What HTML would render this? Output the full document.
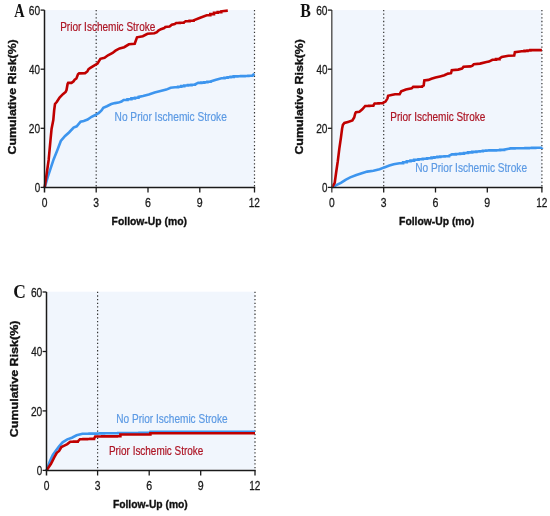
<!DOCTYPE html>
<html><head><meta charset="utf-8"><title>Cumulative Risk</title>
<style>
html,body{margin:0;padding:0;background:#fff;}
svg{display:block;}
.tk{font-family:"Liberation Sans",sans-serif;font-size:13.6px;fill:#1a1a1a;stroke:#1a1a1a;stroke-width:0.3px;}
.lt{font-family:"Liberation Serif",serif;font-weight:bold;font-size:18.0px;fill:#111;}
.ax{font-family:"Liberation Sans",sans-serif;font-weight:bold;font-size:11.4px;fill:#111;stroke:#111;stroke-width:0.35px;}
.lb{font-family:"Liberation Sans",sans-serif;font-size:12.1px;stroke-width:0.2px;}
</style></head>
<body>
<svg width="550" height="516" viewBox="0 0 550 516">
<rect width="550" height="516" fill="#fff"/>
<rect x="45.3" y="10.1" width="209.2" height="176.5" fill="#f1f6fd"/>
<line x1="96.2" y1="9.90" x2="96.2" y2="186.8" stroke="#333" stroke-width="1.2" stroke-dasharray="1.3 2.35"/>
<line x1="254.5" y1="9.90" x2="254.5" y2="186.8" stroke="#333" stroke-width="1.2" stroke-dasharray="1.3 2.35"/>
<polyline points="44.7,187.4 47.8,176.8 50.7,168.1 53.6,159.4 57.5,149.7 60.8,141.0 65.1,136.0 69.0,132.5 73.6,127.5 76.7,126.3 80.6,121.7 83.7,120.9 87.6,119.6 91.6,116.8 95.3,115.0 98.9,112.9 101.5,110.4 103.3,107.8 106.9,106.2 111.3,104.0 114.9,103.1 118.5,102.6 121.5,101.5 123.6,100.0 127.5,100.0 127.5,99.2 131.4,99.2 131.4,98.4 135.0,98.4 135.0,97.7 138.6,97.7 138.6,96.9 143.0,95.9 148.8,94.4 154.6,92.5 160.5,91.1 166.3,89.6 170.6,87.7 175.0,87.3 178.1,87.3 178.1,86.7 181.2,86.7 181.2,86.1 184.3,86.1 184.3,85.5 187.9,85.5 187.9,85.1 191.5,85.1 191.5,84.8 195.1,84.8 195.1,84.4 198.2,82.9 201.3,82.9 201.3,82.6 204.3,82.6 204.3,82.2 207.4,82.2 207.4,81.8 210.5,81.8 210.5,81.5 215.2,80.0 221.4,78.3 224.5,78.3 224.5,77.8 227.6,77.8 227.6,77.3 230.6,77.3 230.6,76.9 233.7,76.9 233.7,76.4 237.3,76.4 237.3,76.3 241.0,76.3 241.0,76.1 244.6,76.1 244.6,76.0 248.4,76.0 248.4,75.8 252.3,75.8 252.3,75.6 254.3,73.8" fill="none" stroke="#3d95ee" stroke-width="2.6" stroke-linejoin="miter"/>
<polyline points="44.7,187.4 46.5,175.0 48.7,159.7 50.5,140.0 51.6,128.7 53.3,120.0 54.2,110.0 55.0,104.0 56.9,101.8 59.6,97.5 62.9,94.2 65.6,92.0 66.5,90.0 67.6,84.0 68.2,82.9 71.5,82.9 73.6,81.3 74.7,79.6 76.4,78.5 78.0,74.2 79.1,73.4 85.1,73.1 87.3,71.5 88.4,69.3 90.0,68.2 92.8,66.4 97.5,63.5 100.4,58.8 104.5,57.7 108.0,55.3 112.6,53.0 115.5,50.7 119.6,48.4 124.2,47.2 128.9,44.3 134.7,43.7 137.0,37.3 142.8,36.2 147.5,33.8 154.4,33.2 156.9,32.1 158.4,30.6 160.9,29.2 164.2,28.1 165.3,27.0 169.6,26.6 171.8,24.8 174.7,24.1 176.2,23.0 179.8,23.0 179.8,22.8 183.5,22.8 183.5,22.6 185.6,21.2 189.6,21.2 189.6,20.8 193.6,20.8 193.6,20.4 200.2,17.7 206.7,15.3 210.3,15.3 210.3,14.1 214.0,14.1 214.0,12.8 217.7,12.8 217.7,12.1 221.3,12.1 221.3,11.3 227.8,10.6" fill="none" stroke="#c00000" stroke-width="2.6" stroke-linejoin="miter"/>
<line x1="44.5" y1="10.1" x2="44.5" y2="192.5" stroke="#1a1a1a" stroke-width="1.5"/>
<line x1="43.8" y1="187.4" x2="255.2" y2="187.4" stroke="#1a1a1a" stroke-width="1.5"/>
<line x1="40.6" y1="187.4" x2="44.5" y2="187.4" stroke="#1a1a1a" stroke-width="1.3"/>
<line x1="40.6" y1="128.3" x2="44.5" y2="128.3" stroke="#1a1a1a" stroke-width="1.3"/>
<line x1="40.6" y1="69.2" x2="44.5" y2="69.2" stroke="#1a1a1a" stroke-width="1.3"/>
<line x1="40.6" y1="10.1" x2="44.5" y2="10.1" stroke="#1a1a1a" stroke-width="1.3"/>
<line x1="96.2" y1="187.4" x2="96.2" y2="192.5" stroke="#1a1a1a" stroke-width="1.3"/>
<line x1="148.0" y1="187.4" x2="148.0" y2="192.5" stroke="#1a1a1a" stroke-width="1.3"/>
<line x1="199.8" y1="187.4" x2="199.8" y2="192.5" stroke="#1a1a1a" stroke-width="1.3"/>
<line x1="254.5" y1="187.4" x2="254.5" y2="192.5" stroke="#1a1a1a" stroke-width="1.3"/>
<text x="34.67" y="192.15" class="tk" textLength="5.47" lengthAdjust="spacingAndGlyphs">0</text>
<text x="28.84" y="133.05" class="tk" textLength="11.31" lengthAdjust="spacingAndGlyphs">20</text>
<text x="29.12" y="73.95" class="tk" textLength="11.01" lengthAdjust="spacingAndGlyphs">40</text>
<text x="28.83" y="14.85" class="tk" textLength="11.31" lengthAdjust="spacingAndGlyphs">60</text>
<text x="41.65" y="206.50" class="tk" textLength="5.70" lengthAdjust="spacingAndGlyphs">0</text>
<text x="93.36" y="206.50" class="tk" textLength="5.75" lengthAdjust="spacingAndGlyphs">3</text>
<text x="145.01" y="206.50" class="tk" textLength="5.91" lengthAdjust="spacingAndGlyphs">6</text>
<text x="196.85" y="206.50" class="tk" textLength="5.90" lengthAdjust="spacingAndGlyphs">9</text>
<text x="248.79" y="206.50" class="tk" textLength="11.17" lengthAdjust="spacingAndGlyphs">12</text>
<text x="14.26" y="16.50" class="lt" textLength="10.24" lengthAdjust="spacingAndGlyphs">A</text>
<text transform="rotate(-90)" x="-154.51" y="16.20" class="ax" textLength="115.22" lengthAdjust="spacingAndGlyphs">Cumulative Risk(%)</text>
<text x="111.61" y="225.00" class="ax" textLength="75.31" lengthAdjust="spacingAndGlyphs">Follow-Up (mo)</text>
<text x="60.18" y="30.70" class="lb" fill="#ad1424" textLength="95.17" lengthAdjust="spacingAndGlyphs" stroke="#ad1424">Prior Ischemic Stroke</text>
<text x="114.57" y="120.50" class="lb" fill="#5c9ae4" textLength="112.28" lengthAdjust="spacingAndGlyphs" stroke="#5c9ae4">No Prior Ischemic Stroke</text>
<rect x="332.6" y="10.1" width="209.3" height="176.5" fill="#f1f6fd"/>
<line x1="383.7" y1="9.90" x2="383.7" y2="186.8" stroke="#333" stroke-width="1.2" stroke-dasharray="1.3 2.35"/>
<line x1="541.9" y1="9.90" x2="541.9" y2="186.8" stroke="#333" stroke-width="1.2" stroke-dasharray="1.3 2.35"/>
<polyline points="332.1,187.4 336.2,185.2 340.9,182.9 345.5,179.8 350.2,177.4 356.4,175.1 361.0,173.6 367.2,171.6 373.4,170.8 379.6,169.2 384.3,167.4 389.4,165.6 393.7,164.2 399.5,163.2 403.1,163.2 403.1,162.2 406.8,162.2 406.8,161.3 410.5,161.3 410.5,160.6 414.1,160.6 414.1,159.8 418.5,159.8 418.5,159.3 422.8,159.3 422.8,158.8 427.1,158.8 427.1,158.2 431.5,158.2 431.5,157.6 434.4,157.6 434.4,157.2 437.4,157.2 437.4,156.9 440.3,156.9 440.3,156.5 444.6,156.5 444.6,156.2 449.0,156.2 449.0,155.9 451.9,154.4 455.9,154.4 455.9,154.0 460.0,154.0 460.0,153.6 464.0,153.6 464.0,153.0 468.0,153.0 468.0,152.4 472.2,152.4 472.2,151.9 476.4,151.9 476.4,151.5 479.7,151.5 479.7,151.2 482.9,151.2 482.9,150.8 486.2,150.8 486.2,150.5 489.5,150.5 489.5,150.4 492.7,150.4 492.7,150.4 496.0,150.4 496.0,150.3 500.1,150.3 500.1,149.9 504.2,149.9 504.2,149.6 510.7,148.4 514.5,148.4 514.5,148.3 518.4,148.3 518.4,148.3 522.2,148.3 522.2,148.2 525.5,148.2 525.5,148.1 528.7,148.1 528.7,148.0 532.0,148.0 532.0,147.9 535.3,147.9 535.3,147.8 538.6,147.8 538.6,147.7 541.9,147.7 541.9,147.6" fill="none" stroke="#3d95ee" stroke-width="2.6" stroke-linejoin="miter"/>
<polyline points="332.1,187.4 334.7,182.9 336.2,172.0 337.8,161.2 339.3,148.8 340.9,137.9 342.1,128.6 342.9,124.8 344.4,123.0 348.0,121.9 352.4,120.5 354.2,117.5 355.3,113.2 356.0,112.1 359.4,111.7 362.3,109.3 365.2,106.0 369.2,106.0 369.2,105.8 373.2,105.8 373.2,105.7 374.6,103.5 378.6,103.5 378.6,103.2 382.6,103.2 382.6,103.0 385.5,101.6 387.4,98.6 388.1,95.8 391.4,95.0 395.0,94.2 399.6,94.3 401.2,91.3 405.9,89.5 411.7,88.4 413.2,86.9 417.5,86.9 417.5,86.7 421.9,86.7 421.9,86.5 423.7,85.4 424.3,80.5 428.5,79.9 431.4,78.8 435.5,77.6 440.0,76.4 444.4,75.2 448.0,73.6 451.0,73.2 451.8,70.1 458.2,69.6 462.0,68.6 463.5,66.8 470.5,66.4 472.5,65.6 473.8,64.2 480.0,63.6 486.5,62.0 489.0,61.6 492.4,59.8 496.0,59.8 496.0,59.1 499.6,59.1 499.6,58.5 501.8,56.9 508.4,55.8 514.2,55.5 514.9,52.2 520.0,51.5 521.6,51.3 524.5,51.3 524.5,50.9 527.5,50.9 527.5,50.5 530.4,50.5 530.4,50.1 534.2,50.1 534.2,50.1 538.1,50.1 538.1,50.1 541.9,50.1 541.9,50.1" fill="none" stroke="#c00000" stroke-width="2.6" stroke-linejoin="miter"/>
<line x1="331.8" y1="10.1" x2="331.8" y2="192.5" stroke="#5a5a5a" stroke-width="1.5"/>
<line x1="331.1" y1="187.4" x2="542.6" y2="187.4" stroke="#1a1a1a" stroke-width="1.5"/>
<line x1="327.9" y1="187.4" x2="331.8" y2="187.4" stroke="#1a1a1a" stroke-width="1.3"/>
<line x1="327.9" y1="128.3" x2="331.8" y2="128.3" stroke="#1a1a1a" stroke-width="1.3"/>
<line x1="327.9" y1="69.2" x2="331.8" y2="69.2" stroke="#1a1a1a" stroke-width="1.3"/>
<line x1="327.9" y1="10.1" x2="331.8" y2="10.1" stroke="#1a1a1a" stroke-width="1.3"/>
<line x1="383.7" y1="187.4" x2="383.7" y2="192.5" stroke="#1a1a1a" stroke-width="1.3"/>
<line x1="435.5" y1="187.4" x2="435.5" y2="192.5" stroke="#1a1a1a" stroke-width="1.3"/>
<line x1="487.3" y1="187.4" x2="487.3" y2="192.5" stroke="#1a1a1a" stroke-width="1.3"/>
<line x1="541.9" y1="187.4" x2="541.9" y2="192.5" stroke="#1a1a1a" stroke-width="1.3"/>
<text x="321.97" y="192.15" class="tk" textLength="5.47" lengthAdjust="spacingAndGlyphs">0</text>
<text x="316.14" y="133.05" class="tk" textLength="11.31" lengthAdjust="spacingAndGlyphs">20</text>
<text x="316.42" y="73.95" class="tk" textLength="11.01" lengthAdjust="spacingAndGlyphs">40</text>
<text x="316.13" y="14.85" class="tk" textLength="11.31" lengthAdjust="spacingAndGlyphs">60</text>
<text x="328.95" y="206.50" class="tk" textLength="5.70" lengthAdjust="spacingAndGlyphs">0</text>
<text x="380.86" y="206.50" class="tk" textLength="5.75" lengthAdjust="spacingAndGlyphs">3</text>
<text x="432.51" y="206.50" class="tk" textLength="5.91" lengthAdjust="spacingAndGlyphs">6</text>
<text x="484.35" y="206.50" class="tk" textLength="5.90" lengthAdjust="spacingAndGlyphs">9</text>
<text x="536.19" y="206.50" class="tk" textLength="11.17" lengthAdjust="spacingAndGlyphs">12</text>
<text x="300.34" y="16.50" class="lt" textLength="10.61" lengthAdjust="spacingAndGlyphs">B</text>
<text transform="rotate(-90)" x="-154.61" y="303.10" class="ax" textLength="115.52" lengthAdjust="spacingAndGlyphs">Cumulative Risk(%)</text>
<text x="399.11" y="224.80" class="ax" textLength="75.21" lengthAdjust="spacingAndGlyphs">Follow-Up (mo)</text>
<text x="390.28" y="120.60" class="lb" fill="#ad1424" textLength="95.07" lengthAdjust="spacingAndGlyphs" stroke="#ad1424">Prior Ischemic Stroke</text>
<text x="415.17" y="171.80" class="lb" fill="#5c9ae4" textLength="111.88" lengthAdjust="spacingAndGlyphs" stroke="#5c9ae4">No Prior Ischemic Stroke</text>
<rect x="47.3" y="291.7" width="207.7" height="177.9" fill="#f1f6fd"/>
<line x1="97.6" y1="291.70" x2="97.6" y2="469.8" stroke="#333" stroke-width="1.2" stroke-dasharray="1.3 2.35"/>
<line x1="255.0" y1="291.70" x2="255.0" y2="469.8" stroke="#333" stroke-width="1.2" stroke-dasharray="1.3 2.35"/>
<polyline points="46.6,470.4 49.8,461.5 52.7,455.1 55.6,451.0 59.1,446.4 62.6,442.3 67.3,439.4 71.9,437.7 76.6,435.3 82.4,433.8 86.0,433.8 86.0,433.7 89.6,433.7 89.6,433.6 93.2,433.6 93.2,433.6 96.8,433.6 96.8,433.5 100.4,433.5 100.4,433.4 104.0,433.4 104.0,433.3 107.6,433.3 107.6,433.3 111.1,433.3 111.1,433.2 114.7,433.2 114.7,433.2 118.2,433.2 118.2,433.1 121.8,433.1 121.8,433.1 125.3,433.1 125.3,433.1 128.9,433.1 128.9,433.0 132.4,433.0 132.4,433.0 136.0,433.0 136.0,433.0 139.5,433.0 139.5,432.9 143.1,432.9 143.1,432.9 146.6,432.9 146.6,432.8 150.2,432.8 150.2,432.8 150.4,431.9 153.9,431.9 153.9,431.9 157.4,431.9 157.4,431.9 160.9,431.9 160.9,431.9 164.3,431.9 164.3,431.9 167.8,431.9 167.8,431.9 171.3,431.9 171.3,431.9 174.8,431.9 174.8,431.9 178.3,431.9 178.3,431.9 181.8,431.9 181.8,431.9 185.3,431.9 185.3,431.9 188.8,431.9 188.8,431.9 192.2,431.9 192.2,431.9 195.7,431.9 195.7,431.9 199.2,431.9 199.2,431.9 202.7,431.9 202.7,431.9 206.2,431.9 206.2,431.9 209.7,431.9 209.7,431.9 213.2,431.9 213.2,431.9 216.6,431.9 216.6,431.9 220.1,431.9 220.1,431.9 223.6,431.9 223.6,431.9 227.1,431.9 227.1,431.9 230.6,431.9 230.6,431.9 234.1,431.9 234.1,431.9 237.6,431.9 237.6,431.9 241.1,431.9 241.1,431.9 244.5,431.9 244.5,431.9 248.0,431.9 248.0,431.9 251.5,431.9 251.5,431.9 255.0,431.9 255.0,431.9" fill="none" stroke="#3d95ee" stroke-width="2.6" stroke-linejoin="miter"/>
<polyline points="46.6,470.4 51.0,463.8 54.5,456.9 56.8,452.8 59.1,451.0 61.4,447.0 63.8,445.8 67.3,444.1 70.2,441.7 74.0,441.7 74.0,441.6 77.7,441.6 77.7,441.5 80.0,439.2 83.5,439.2 83.5,439.1 87.0,439.1 87.0,439.0 90.5,439.0 90.5,438.9 94.0,438.9 94.0,438.8 95.2,436.5 98.8,436.5 98.8,436.5 102.4,436.5 102.4,436.4 106.0,436.4 106.0,436.4 109.6,436.4 109.6,436.4 113.2,436.4 113.2,436.4 116.8,436.4 116.8,436.3 120.4,436.3 120.4,436.3 120.4,434.5 123.7,434.5 123.7,434.5 127.1,434.5 127.1,434.5 130.4,434.5 130.4,434.5 133.7,434.5 133.7,434.5 137.1,434.5 137.1,434.5 140.4,434.5 140.4,434.5 143.7,434.5 143.7,434.5 147.1,434.5 147.1,434.5 150.4,434.5 150.4,434.5 150.4,433.3 153.9,433.3 153.9,433.3 157.4,433.3 157.4,433.3 160.9,433.3 160.9,433.3 164.3,433.3 164.3,433.3 167.8,433.3 167.8,433.3 171.3,433.3 171.3,433.3 174.8,433.3 174.8,433.3 178.3,433.3 178.3,433.3 181.8,433.3 181.8,433.3 185.3,433.3 185.3,433.3 188.8,433.3 188.8,433.3 192.2,433.3 192.2,433.3 195.7,433.3 195.7,433.3 199.2,433.3 199.2,433.3 202.7,433.3 202.7,433.3 206.2,433.3 206.2,433.3 209.7,433.3 209.7,433.3 213.2,433.3 213.2,433.3 216.6,433.3 216.6,433.3 220.1,433.3 220.1,433.3 223.6,433.3 223.6,433.3 227.1,433.3 227.1,433.3 230.6,433.3 230.6,433.3 234.1,433.3 234.1,433.3 237.6,433.3 237.6,433.3 241.1,433.3 241.1,433.3 244.5,433.3 244.5,433.3 248.0,433.3 248.0,433.3 251.5,433.3 251.5,433.3 255.0,433.3 255.0,433.3" fill="none" stroke="#c00000" stroke-width="2.6" stroke-linejoin="miter"/>
<line x1="46.5" y1="292.0" x2="46.5" y2="475.5" stroke="#1a1a1a" stroke-width="1.5"/>
<line x1="45.8" y1="470.4" x2="255.7" y2="470.4" stroke="#1a1a1a" stroke-width="1.5"/>
<line x1="42.6" y1="470.4" x2="46.5" y2="470.4" stroke="#1a1a1a" stroke-width="1.3"/>
<line x1="42.6" y1="410.9" x2="46.5" y2="410.9" stroke="#1a1a1a" stroke-width="1.3"/>
<line x1="42.6" y1="351.5" x2="46.5" y2="351.5" stroke="#1a1a1a" stroke-width="1.3"/>
<line x1="42.6" y1="292.0" x2="46.5" y2="292.0" stroke="#1a1a1a" stroke-width="1.3"/>
<line x1="97.6" y1="470.4" x2="97.6" y2="475.5" stroke="#1a1a1a" stroke-width="1.3"/>
<line x1="149.2" y1="470.4" x2="149.2" y2="475.5" stroke="#1a1a1a" stroke-width="1.3"/>
<line x1="200.7" y1="470.4" x2="200.7" y2="475.5" stroke="#1a1a1a" stroke-width="1.3"/>
<line x1="255.0" y1="470.4" x2="255.0" y2="475.5" stroke="#1a1a1a" stroke-width="1.3"/>
<text x="36.72" y="475.30" class="tk" textLength="5.47" lengthAdjust="spacingAndGlyphs">0</text>
<text x="30.89" y="415.80" class="tk" textLength="11.31" lengthAdjust="spacingAndGlyphs">20</text>
<text x="31.17" y="356.40" class="tk" textLength="11.01" lengthAdjust="spacingAndGlyphs">40</text>
<text x="30.88" y="296.90" class="tk" textLength="11.31" lengthAdjust="spacingAndGlyphs">60</text>
<text x="43.65" y="489.50" class="tk" textLength="5.70" lengthAdjust="spacingAndGlyphs">0</text>
<text x="94.76" y="489.50" class="tk" textLength="5.75" lengthAdjust="spacingAndGlyphs">3</text>
<text x="146.21" y="489.50" class="tk" textLength="5.91" lengthAdjust="spacingAndGlyphs">6</text>
<text x="197.75" y="489.50" class="tk" textLength="5.90" lengthAdjust="spacingAndGlyphs">9</text>
<text x="249.29" y="489.50" class="tk" textLength="11.17" lengthAdjust="spacingAndGlyphs">12</text>
<text x="13.25" y="297.60" class="lt" textLength="12.58" lengthAdjust="spacingAndGlyphs">C</text>
<text transform="rotate(-90)" x="-437.21" y="18.10" class="ax" textLength="116.63" lengthAdjust="spacingAndGlyphs">Cumulative Risk(%)</text>
<text x="112.91" y="508.30" class="ax" textLength="74.90" lengthAdjust="spacingAndGlyphs">Follow-Up (mo)</text>
<text x="108.88" y="454.80" class="lb" fill="#ad1424" textLength="94.46" lengthAdjust="spacingAndGlyphs" stroke="#ad1424">Prior Ischemic Stroke</text>
<text x="116.27" y="423.40" class="lb" fill="#5c9ae4" textLength="111.27" lengthAdjust="spacingAndGlyphs" stroke="#5c9ae4">No Prior Ischemic Stroke</text>
</svg>
</body></html>
